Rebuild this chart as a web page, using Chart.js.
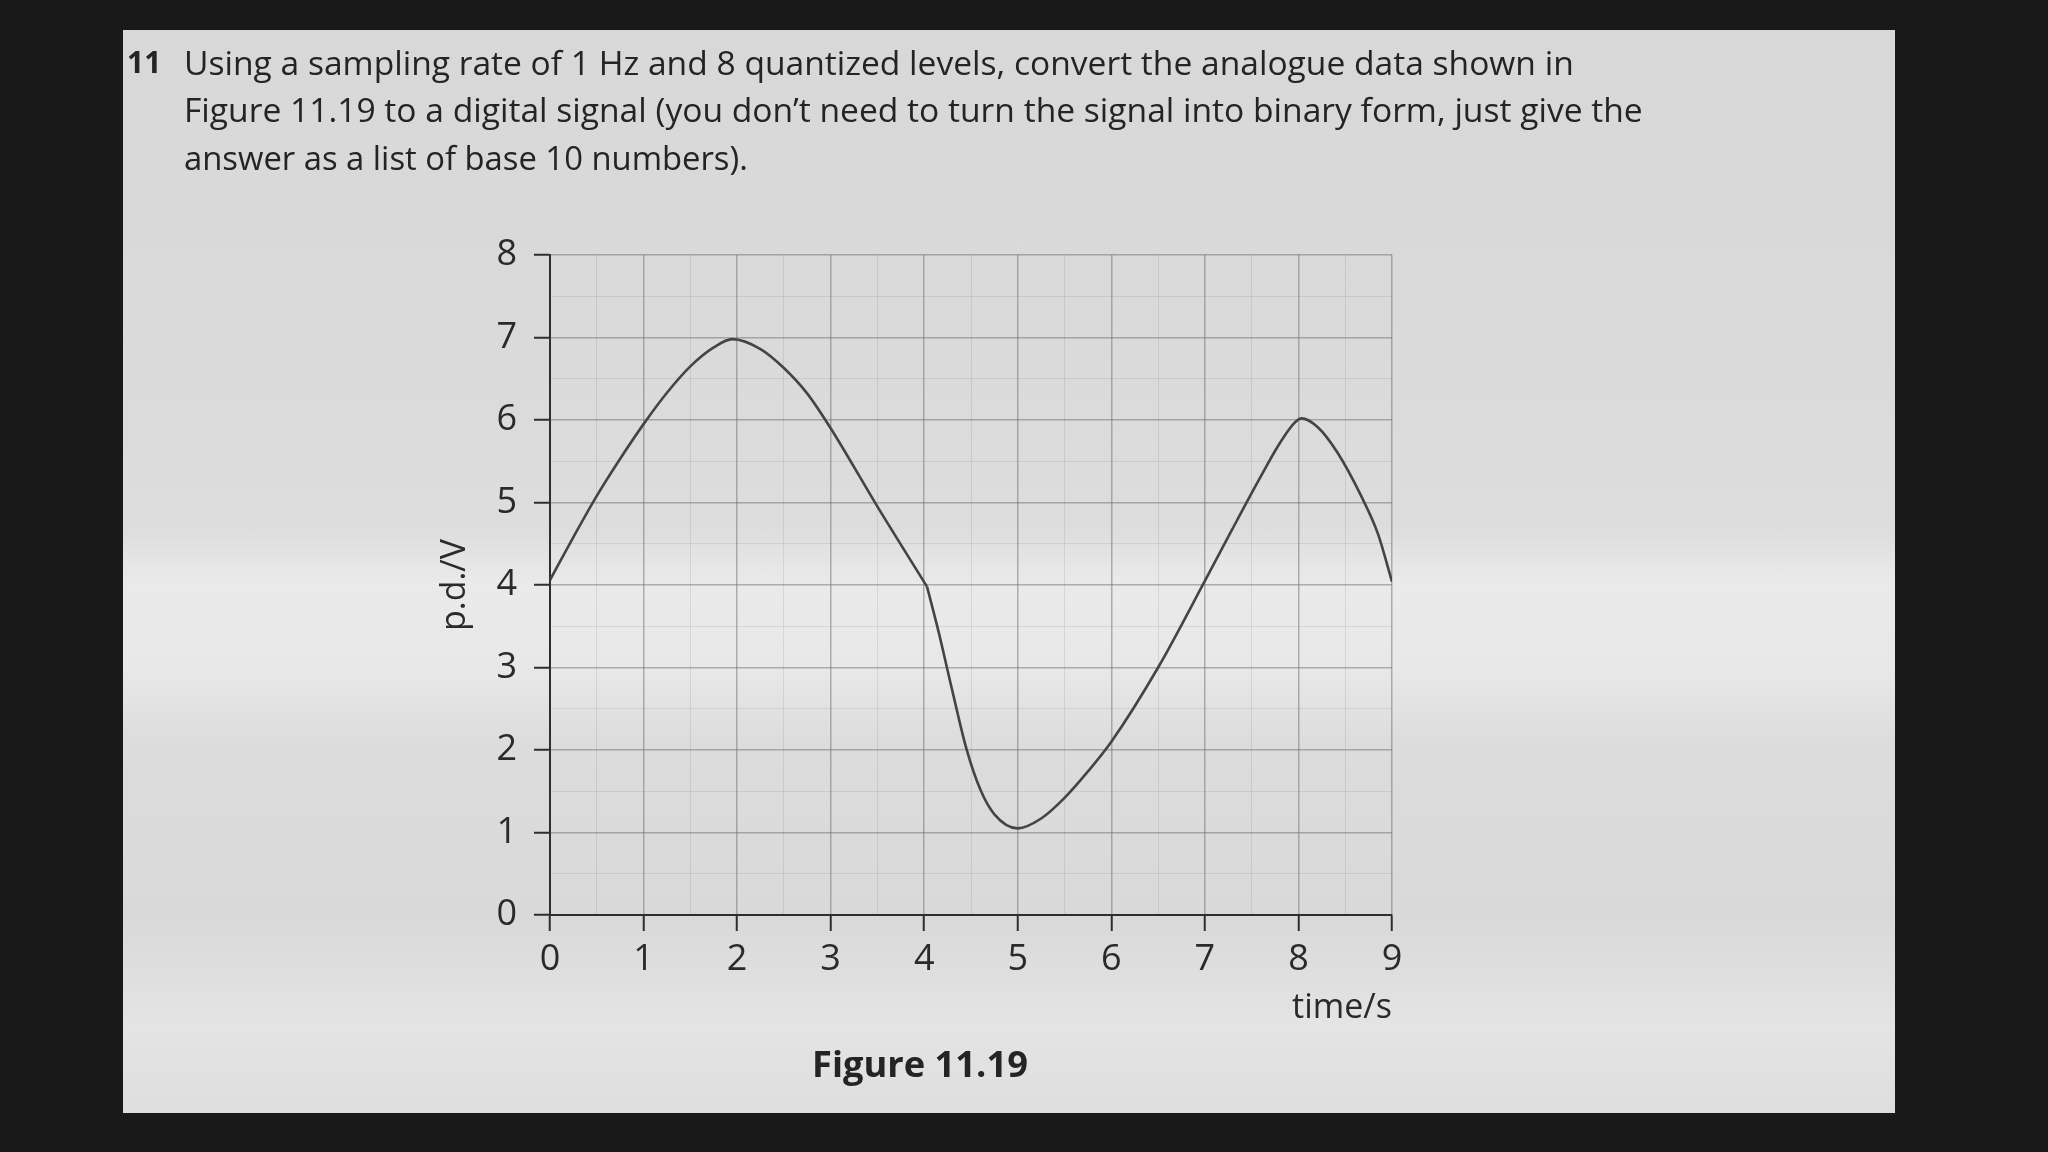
<!DOCTYPE html>
<html>
<head>
<meta charset="utf-8">
<script src="https://cdn.jsdelivr.net/npm/chart.js@4.4.1/dist/chart.umd.min.js"></script>
<style>
html, body { margin: 0; padding: 0; width: 2048px; height: 1152px; overflow: hidden; background: #191919; }
#page
{
	position: absolute; left: 123px; top: 30px; width: 1772px; height: 1083px;
	background: linear-gradient(180deg, #d8d8d8 0%, #dadada 30%, #dddddd 46%, #eaeaea 51%, #e8e8e8 59%, #dcdcdc 66%, #d9d9d9 82%, #e4e4e4 92%, #dedede 100%);
}
#chart { position: absolute; left: 0; top: 0; }
.txt { position: absolute; white-space: nowrap; font-family: "Open Sans", sans-serif; color: #242424; line-height: 1; }
.bold { font-weight: 700; }
</style>
</head>
<body>
<div id="page"></div>
<canvas id="chart" width="2048" height="1152"></canvas>

<div class="txt bold" id="q-num" style="left:127px; top:47px; font-size:30px;">11</div>
<div class="txt" id="line-1" style="left:184px; top:46px; font-size:30px;">Using a sampling rate of 1 Hz and 8 quantized levels, convert the analogue data shown in</div>
<div class="txt" id="line-2" style="left:184px; top:93px; font-size:30px;">Figure 11.19 to a digital signal (you don’t need to turn the signal into binary form, just give the</div>
<div class="txt" id="line-3" style="left:184px; top:142px; font-size:27px;">answer as a list of base 10 numbers).</div>
<div class="txt bold" id="caption" style="left:812px; top:1045px; font-size:32px;">Figure 11.19</div>

<script>
// time/s and p.d./V
const timeValues = [0, 0.25, 0.5, 0.75, 1, 1.25, 1.5, 1.75, 1.95, 2.25, 2.5, 2.75, 3, 3.5, 4.03, 4.15, 4.3, 4.45, 4.6, 4.75, 5, 5.25, 5.5, 5.75, 6, 6.5, 7, 7.29, 7.58, 7.79, 7.93, 8.03, 8.21, 8.42, 8.67, 8.85, 9];
const pdValues = [4.06, 4.58, 5.08, 5.53, 5.95, 6.33, 6.65, 6.88, 6.98, 6.86, 6.63, 6.32, 5.9, 4.95, 3.98, 3.45, 2.72, 2.02, 1.52, 1.22, 1.05, 1.17, 1.42, 1.74, 2.1, 3.0, 4.05, 4.67, 5.28, 5.7, 5.93, 6.02, 5.91, 5.6, 5.08, 4.62, 4.04];

// the curve has a sharp corner here
const kinkTime = 4.03;

const xAxisTitle = "time/s";
const yAxisTitle = "p.d./V";

// where the plot box sits on the page
const plotBox = { left: 550, top: 255, right: 1392, bottom: 915 };

const axisColor = "#2e2e2e";
const majorGrid = "rgba(110, 110, 110, 0.5)";
const minorGrid = "rgba(140, 140, 140, 0.22)";
const labelFont = { family: "Open Sans", size: 36, weight: 400 };

function fitWidth(id, target)
{
	const el = document.getElementById(id);
	const w = el.getBoundingClientRect().width;
	const size = parseFloat(getComputedStyle(el).fontSize);
	el.style.fontSize = (size * target / w) + "px";
}

const isMajor = ctx => Number.isInteger(ctx.tick.value);

const points = timeValues.map((t, i) => ({ x: t, y: pdValues[i] }));

function curvePiece(data)
{
	return {
		data,
		showLine: true,
		borderColor: "#444444",
		borderWidth: 2.6,
		pointRadius: 0,
		cubicInterpolationMode: "monotone",
		fill: false
	};
}

const chart = new Chart(document.getElementById("chart"),
{
	type: "scatter",
	data:
	{
		datasets: [
			curvePiece(points.filter(p => p.x <= kinkTime)),
			curvePiece(points.filter(p => p.x >= kinkTime))
		]
	},
	options:
	{
		responsive: false,
		animation: false,
		maintainAspectRatio: false,
		layout: { padding: { left: 400, top: 240, right: 656, bottom: 100 } },
		plugins: { legend: { display: false }, tooltip: { enabled: false } },
		scales:
		{
			x:
			{
				type: "linear", min: 0, max: 9,
				ticks: { stepSize: 0.5, autoSkip: false, maxRotation: 0, padding: 7, color: "#2a2a2a", font: labelFont,
					callback: v => Number.isInteger(v) ? v : "" },
				grid: { color: c => isMajor(c) ? majorGrid : minorGrid, lineWidth: c => isMajor(c) ? 1.5 : 1,
					tickColor: c => isMajor(c) ? axisColor : "transparent", tickLength: 16, tickWidth: 2 },
				border: { color: axisColor, width: 2 },
				title: { display: true, text: xAxisTitle, align: "end", color: "#2a2a2a",
					font: { family: "Open Sans", size: 34, weight: 400 }, padding: { top: 0, bottom: 0 } }
			},
			y:
			{
				type: "linear", min: 0, max: 8,
				ticks: { stepSize: 0.5, autoSkip: false, padding: 17, color: "#2a2a2a", font: labelFont,
					callback: v => Number.isInteger(v) ? v : "" },
				grid: { color: c => isMajor(c) ? majorGrid : minorGrid, lineWidth: c => isMajor(c) ? 1.5 : 1,
					tickColor: c => isMajor(c) ? axisColor : "transparent", tickLength: 16, tickWidth: 2 },
				border: { color: axisColor, width: 2 },
				title: { display: true, text: yAxisTitle, color: "#2a2a2a",
					font: { family: "Open Sans", size: 34, weight: 400 }, padding: { top: 0, bottom: 4 } }
			}
		}
	}
});

// nudge the padding so the plot box lands where it is on the page
const pad = chart.options.layout.padding;
const area = chart.chartArea;
pad.left += plotBox.left - area.left;
pad.top += plotBox.top - area.top;
pad.right += area.right - plotBox.right;
pad.bottom += area.bottom - plotBox.bottom;
chart.update();

fitWidth("line-1", 1390);
fitWidth("line-2", 1459);
fitWidth("line-3", 564);
fitWidth("caption", 216);
</script>
</body>
</html>
